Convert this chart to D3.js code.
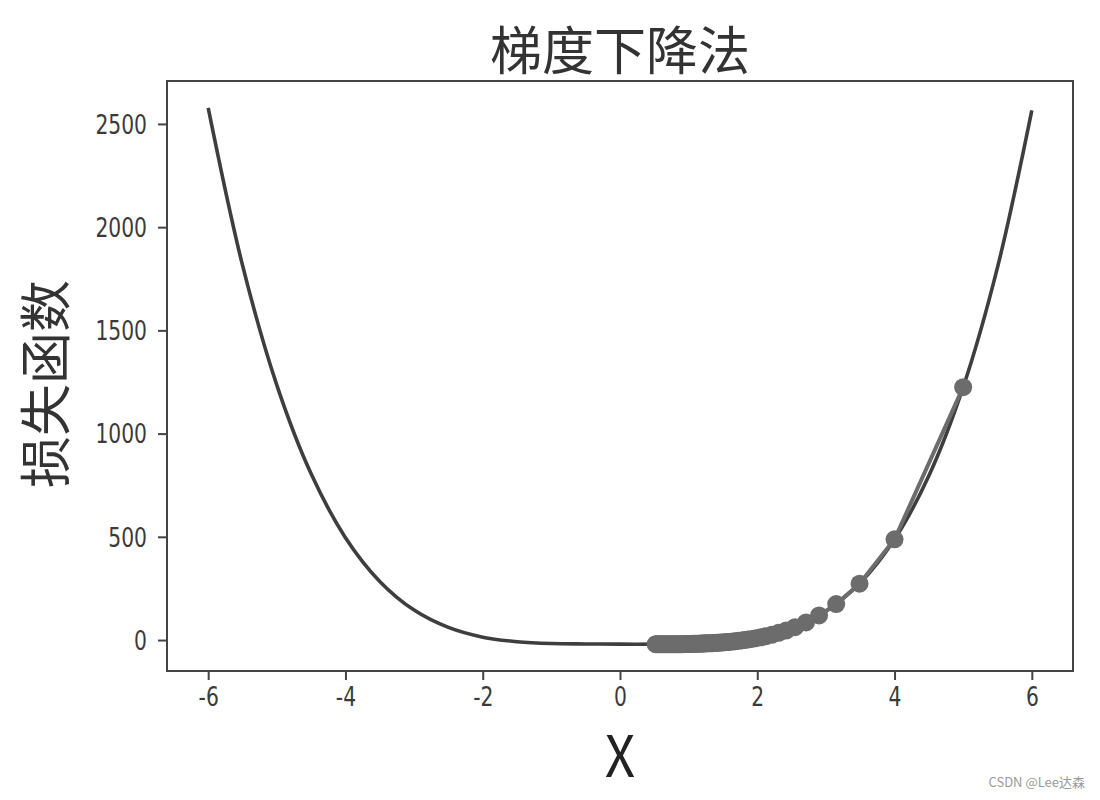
<!DOCTYPE html>
<html><head><meta charset="utf-8">
<script src="https://cdn.jsdelivr.net/npm/d3@7/dist/d3.min.js"></script>
<style>
html,body{margin:0;padding:0;background:#fff;}
.tick text{font-family:"DejaVu Sans",sans-serif;fill:#3a3a3a;}
</style></head>
<body><svg id="c" width="1100" height="800"></svg>
<script>
// Loss curve samples
const curveX = [-6,-5.5,-5,-4.5,-4,-3.5,-3,-2.5,-2,-1.5,-1,-0.5,0,0.5,1,1.5,2,2.5,3,3.5,4,4.5,5,5.5,6];
const curveY = [2578,1816,1235,805,496,284,145,61,14,-8,-17,-19,-20,-20,-19,-11,10,56,139,277,488,796,1225,1805,2566];
// Gradient descent path
const pathX = [5,4.00,3.49,3.15,2.90,2.71,2.55,2.42,2.31,2.21,2.12,2.05,1.98,1.92,1.86,1.81,1.77,1.72,1.68,1.65,1.61,1.58,1.55,1.52,1.49,1.46,1.44,1.41,1.39,1.37,1.35,1.33,1.31,1.29,1.27,1.25,1.23,1.21,1.19,1.17,1.15,1.13,1.11,1.09,1.07,1.05,1.03,1.01,0.99,0.97,0.95,0.93,0.91,0.89,0.87,0.85,0.83,0.81,0.79,0.77,0.75,0.73,0.71,0.69,0.67,0.65,0.63,0.61,0.59,0.57,0.55,0.53,0.52];
const pathY = [1225,488,273,174,119,85,62,46,35,25,18,13,9,5,2,0,-2,-4,-6,-7,-8,-9,-10,-11,-12,-12,-13,-13,-14,-14,-15,-15,-15,-16,-16,-16,-17,-17,-17,-17,-18,-18,-18,-18,-18,-19,-19,-19,-19,-19,-19,-19,-20,-20,-20,-20,-20,-20,-20,-20,-20,-20,-20,-20,-20,-20,-20,-20,-20,-20,-20,-20,-20];
const xTicks = [-6,-4,-2,0,2,4,6];
const yTicks = [0,500,1000,1500,2000,2500];
const titleText = "梯度下降法";
const xLabel = "X";
const yLabel = "损失函数";
const watermark = "CSDN @Lee达森";

const L = 167, R = 1073, T = 81, B = 671;
const SX = 0.78;
const svg = d3.select("#c");
svg.append("rect").attr("width",1100).attr("height",800).attr("fill","#fff");

const x = d3.scaleLinear().domain([-6.6, 6.6]).range([L, R]);
const y = d3.scaleLinear().domain([-150, 2708]).range([B, T]);

const g = svg.append("g");
svg.append("clipPath").attr("id","clp").append("rect")
  .attr("x",L).attr("y",T).attr("width",R-L).attr("height",B-T);

const plot = g.append("g").attr("clip-path","url(#clp)");
const curveData = curveX.map((v,i)=>[v,curveY[i]]);
plot.append("path").datum(curveData)
  .attr("d", d3.line().x(d=>x(d[0])).y(d=>y(d[1])).curve(d3.curveCatmullRom.alpha(0.5)))
  .attr("fill","none").attr("stroke","#3e3e3e").attr("stroke-width",3.6);

const pathData = pathX.map((v,i)=>[v,pathY[i]]);
plot.append("path").datum(pathData)
  .attr("d", d3.line().x(d=>x(d[0])).y(d=>y(d[1])))
  .attr("fill","none").attr("stroke","#6c6c6c").attr("stroke-width",4);
plot.selectAll("circle").data(pathData).enter().append("circle")
  .attr("cx",d=>x(d[0])).attr("cy",d=>y(d[1])).attr("r",9)
  .attr("fill","#6c6c6c");

// axes
const fmt = d => String(d);
const ax = g.append("g").attr("transform",`translate(0,${B})`)
  .call(d3.axisBottom(x).tickValues(xTicks).tickFormat(fmt).tickSize(9).tickPadding(8));
const ay = g.append("g").attr("transform",`translate(${L},0)`)
  .call(d3.axisLeft(y).tickValues(yTicks).tickFormat(fmt).tickSize(9).tickPadding(8));
[ax,ay].forEach(a=>{
  a.select(".domain").remove();
  a.selectAll(".tick line").attr("stroke","#444").attr("stroke-width",2);
  a.selectAll(".tick text").attr("font-size",26).attr("transform",`scale(${SX},1)`);
});
ax.selectAll(".tick text").attr("x",0);
ay.selectAll(".tick text").attr("x",-20/SX).attr("dy","0.36em");

// frame
g.append("rect").attr("x",L).attr("y",T).attr("width",R-L).attr("height",B-T)
  .attr("fill","none").attr("stroke","#444").attr("stroke-width",2);

// texts
svg.append("text").attr("x",(L+R)/2).attr("y",70).attr("text-anchor","middle")
  .attr("font-family","Noto Sans CJK SC").attr("font-size",52).attr("fill","#333").text(titleText);
svg.append("text").attr("x",(L+R)/2).attr("y",777).attr("text-anchor","middle")
  .attr("font-family","Noto Sans CJK SC").attr("font-size",57).attr("fill","#222")
  .attr("transform",`translate(${(L+R)/2},777) scale(0.92,1) translate(${-(L+R)/2},-777)`).text(xLabel);
svg.append("text").attr("transform",`translate(65,384) rotate(-90)`).attr("text-anchor","middle")
  .attr("font-family","Noto Sans CJK SC").attr("font-size",52).attr("fill","#333").text(yLabel);
svg.append("text").attr("x",1085).attr("y",787).attr("text-anchor","end")
  .attr("font-family","Noto Sans CJK SC").attr("font-size",13).attr("fill","#999").text(watermark);
</script></body></html>
